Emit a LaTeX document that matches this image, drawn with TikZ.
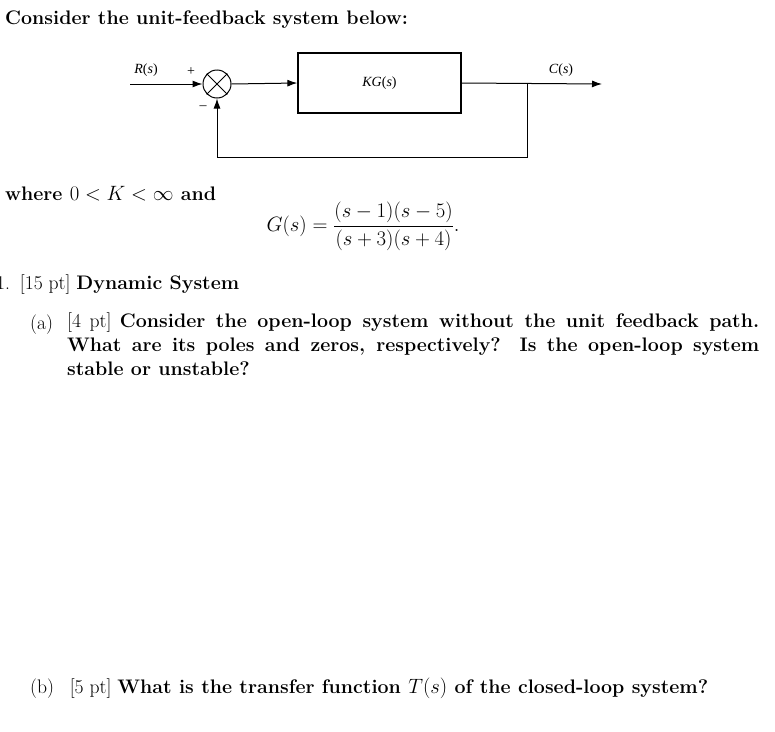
\documentclass[tikz,border=0pt]{standalone}
\usepackage{fontspec}
\newfontfamily\tms{Liberation Serif}
\usetikzlibrary{arrows.meta}
\newcommand{\bigf}{\fontsize{19.6}{24}\selectfont}
\newcommand{\smf}{\tms\fontsize{14}{16}\selectfont}
\begin{document}
\begin{tikzpicture}[x=1pt,y=-1pt,
  wire/.style={line width=1pt},
  arr/.style={wire,-{Latex[length=10pt,width=7pt]}},
  txt/.style={inner sep=0pt,anchor=base west,font=\bigf}]
\useasboundingbox (0,0) rectangle (775,731);
% diagram
\node[draw,circle,minimum size=28pt,inner sep=0pt,wire] (sum) at (217,84) {};
\draw[wire] (sum.north west) -- (sum.south east) (sum.north east) -- (sum.south west);
\node[draw,line width=1.4pt,minimum width=163pt,minimum height=60pt] (kg) at (379.5,83) {\smf\textit{KG}(\textit{s})};
\coordinate (rin) at (130,84);
\coordinate (cout) at (602,84);
\coordinate (br) at (527,84);
\coordinate (b1) at (527,157);
\coordinate (b2) at (217,157);
\draw[arr] (rin) -- (sum.west);
\draw[arr] (sum.east) -- (kg.west);
\draw[arr] (kg.east) -- (cout);
\draw[arr] (br) -- (b1) -- (b2) -- (sum.south);
\node[font=\smf] (rl) at (146,70) {\textit{R}(\textit{s})};
\node[font=\smf] (cl) at (561,70) {\textit{C}(\textit{s})};
\node[font=\smf] (pl) at (191,72) {+};
\node[font=\smf] (ml) at (203,108) {\textendash};
% text
\node[txt,font=\bigf\bfseries] (t1) at (5,24) {Consider the unit-feedback system below:};
\node[txt,font=\bigf\bfseries] (t2) at (5,200) {where $0<K<\infty$ and};
\node[inner sep=0pt,font=\bigf] (eq) at (363,226) {$\displaystyle G(s)=\frac{(s-1)(s-5)}{(s+3)(s+4)}.$};
\node[txt] (t3) at (-4,289) {1.\enspace [15 pt] \textbf{Dynamic System}};
\node[txt] (a) at (30,329) {(a)};
\node[txt,anchor=north west,text width=692pt,align=justify] (atxt) at (67,313) {[4 pt] \textbf{Consider the open-loop system without the unit feedback path. What are its poles and zeros, respectively? Is the open-loop system stable or unstable?}};
\node[txt] (b) at (30,693) {(b)\enspace\ [5 pt] \textbf{What is the transfer function $T(s)$ of the closed-loop system?}};
\end{tikzpicture}
\end{document}
